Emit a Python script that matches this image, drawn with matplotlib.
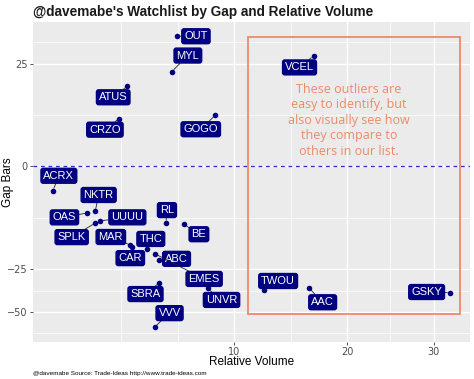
import numpy as np
import matplotlib.pyplot as plt
from matplotlib.patches import Rectangle
from matplotlib.ticker import FixedLocator, NullFormatter

tickers = ["OUT", "MYL", "ATUS", "CRZO", "GOGO", "VCEL", "ACRX", "NKTR", "OAS", "UUUU", "SPLK",
           "RL", "BE", "MAR", "CAR", "THC", "ABC", "EMES", "SBRA", "UNVR", "VVV", "TWOU", "AAC", "GSKY"]
rel_volume = [6.24, 5.95, 3.69, 3.33, 8.66, 16.67, 1.12, 2.40, 2.13, 2.59, 2.40,
              5.62, 6.65, 3.83, 3.92, 4.64, 5.22, 5.04, 5.27, 8.14, 5.01, 12.32, 16.26, 32.13]
gap_bars = [40.1, 21.3, 15.2, 5.4, 6.2, 28.9, -1.4, -4.8, -5.1, -7.0, -7.6,
            -7.6, -7.9, -14.6, -15.4, -16.1, -20.5, -18.1, -31.9, -35.2, -61.1, -36.4, -35.1, -37.6]

x_breaks = [10, 20, 30]
y_breaks = [-50, -25, 0, 25]

# label placement (pixel offsets from the point), like ggrepel put them
label_offsets = {
    "OUT": (19, 0), "MYL": (16, 16), "ATUS": (-14, -11), "CRZO": (-14, -11), "GOGO": (-14.5, -14),
    "VCEL": (-14, -11.5), "ACRX": (6, 15), "NKTR": (3.5, 16.5), "OAS": (-23, -4.5), "UUUU": (27, 3.5),
    "SPLK": (-23.5, -14), "RL": (1, 13), "BE": (15, -10), "MAR": (-19.5, 8), "CAR": (-2, -11),
    "THC": (3.5, 10), "ABC": (18, 0.7), "EMES": (49, -25), "SBRA": (-14, -11.5), "UNVR": (14, -11.5),
    "VVV": (15, 14), "TWOU": (14, 9.5), "AAC": (13.5, -14), "GSKY": (-23.5, 0.5),
}

NAVY = "#000080"
CORAL = "#EE8A67"


def sqrt_fwd(v):
    return np.sqrt(np.maximum(v, 0))


def sqrt_inv(v):
    return np.square(v)


def ssqrt_fwd(v):
    v = np.asarray(v, dtype=float)
    return np.sign(v) * np.sqrt(np.abs(v))


def ssqrt_inv(v):
    v = np.asarray(v, dtype=float)
    return np.sign(v) * v ** 2


def expand(t):
    lo, hi = min(t), max(t)
    pad = (hi - lo) * 0.05
    return lo - pad, hi + pad


def minor_breaks(orig, lims):
    # ggplot style: midpoints between majors in transformed space
    b = list(orig)
    bd = b[1] - b[0]
    if lims[0] < b[0]:
        b = [b[0] - bd] + b
    if lims[1] > b[-1]:
        b = b + [b[-1] + bd]
    out = []
    for a, c in zip(b[:-1], b[1:]):
        out += [a, (a + c) / 2]
    out.append(b[-1])
    return [m for m in out if lims[0] <= m <= lims[1] and not any(np.isclose(m, o) for o in orig)]


fig = plt.figure(figsize=(4.74, 3.79), dpi=100)
ax = fig.add_axes([33 / 474, 1 - 341.7 / 379, 437 / 474, 320 / 379])
ax.set_xscale("function", functions=(sqrt_fwd, sqrt_inv))
ax.set_yscale("function", functions=(ssqrt_fwd, ssqrt_inv))

tx = expand(sqrt_fwd(np.array(rel_volume)))
ty = expand(ssqrt_fwd(np.array(gap_bars)))
ax.set_xlim(sqrt_inv(tx[0]), sqrt_inv(tx[1]))
ax.set_ylim(ssqrt_inv(ty[0]), ssqrt_inv(ty[1]))

ax.set_facecolor("#EBEBEB")
for s in ax.spines.values():
    s.set_visible(False)

mx = minor_breaks(list(sqrt_fwd(np.array(x_breaks))), tx)
ax.xaxis.set_major_locator(FixedLocator(x_breaks))
ax.xaxis.set_minor_locator(FixedLocator(sqrt_inv(np.array(mx))))
my = minor_breaks(list(ssqrt_fwd(np.array(y_breaks))), ty)
ax.yaxis.set_major_locator(FixedLocator(y_breaks))
ax.yaxis.set_minor_locator(FixedLocator(ssqrt_inv(np.array(my))))
ax.xaxis.set_minor_formatter(NullFormatter())
ax.yaxis.set_minor_formatter(NullFormatter())

ax.grid(True, which="major", color="white", lw=1.0)
ax.grid(True, which="minor", color="white", lw=0.5)
ax.set_axisbelow(True)
ax.tick_params(which="major", length=2.5, width=0.6, color="#333333", labelsize=7,
               labelcolor="#4D4D4D", pad=1.5)
ax.tick_params(which="minor", length=0)

ax.axhline(0, color="#2B2BCC", lw=0.9, ls=(0, (3, 3)), zorder=1.5)

ax.add_patch(Rectangle((11.05, -51.8), 33.45 - 11.05, 39.6 + 51.8, fill=False,
                       ec=CORAL, lw=1.3, zorder=2))
ax.text(20.2, 5.1, "These outliers are\neasy to identify, but\nalso visually see how\nthey compare to\nothers in our list.",
        ha="center", va="center", color=CORAL, fontsize=9, family="Open Sans",
        linespacing=1.25, zorder=3)

ax.scatter(rel_volume, gap_bars, s=16, color=NAVY, zorder=4, linewidths=0)

for name, xv, yv in zip(tickers, rel_volume, gap_bars):
    dx, dy = label_offsets[name]
    ax.annotate(name, (xv, yv), xytext=(dx, dy), textcoords="offset pixels",
                ha="center", va="center", color="white", fontsize=8, family="Liberation Sans",
                bbox=dict(boxstyle="round,pad=0.22,rounding_size=0.2", fc=NAVY, ec=NAVY),
                arrowprops=dict(arrowstyle="-", color="#222222", lw=0.6, shrinkA=0, shrinkB=2),
                zorder=5)

fig.text((33 + 470) / 2 / 474, 1 - 362 / 379, "Relative Volume", fontsize=8.5,
         family="Liberation Sans", ha="center", va="center")
fig.text(8 / 474, 1 - 182 / 379, "Gap Bars", fontsize=8.5, family="Liberation Sans",
         ha="center", va="center", rotation=90)

fig.text(33 / 474, 1 - 12 / 379, "@davemabe's Watchlist by Gap and Relative Volume",
         fontsize=9.8, fontweight="bold", family="Liberation Sans", va="center", color="#1A1A1A")
fig.text(33 / 474, 1 - 373 / 379, "@davemabe Source: Trade-Ideas http://www.trade-ideas.com",
         fontsize=4.6, family="Liberation Sans", va="center")

fig.savefig("out.png", dpi=100)
